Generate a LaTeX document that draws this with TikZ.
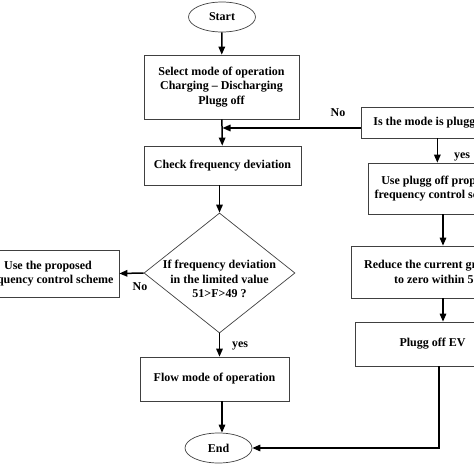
\documentclass[tikz,border=0pt]{standalone}
\usepackage{fontspec}
\setmainfont{Liberation Serif}
\usetikzlibrary{shapes,arrows.meta,positioning}
\tikzstyle{term} = [draw=black!75,ellipse,line width=0.7pt,inner sep=0,minimum width=67pt,minimum height=30pt]
\tikzstyle{proc} = [draw=black!75,rectangle,line width=0.7pt,inner sep=0,align=center]
\tikzstyle{decision} = [draw=black!75,diamond,line width=0.7pt,inner sep=0,minimum width=151pt,minimum height=120pt]
\tikzstyle{flow} = [-{Triangle[length=8pt,width=6.5pt]},line width=1.5pt]
\tikzstyle{tag} = [inner sep=0]
\def \fs {\fontsize{12}{14.5}\selectfont\bfseries}

\begin{document}
\begin{tikzpicture}[x=1pt, y=-1pt, every node/.style={font=\fs}]
      \useasboundingbox (0,0) rectangle (474,474);
      \clip (0,0) rectangle (474,474);
      \node[term] (start) at (222,17) {Start};
      \node[proc,minimum width=155pt,minimum height=64pt] (sel) at (221.5,87) {Select mode of operation\\Charging -- Discharging\\Plugg off};
      \node[proc,minimum width=157pt,minimum height=39pt] (chk) at (222.5,165.5) {Check frequency deviation};
      \node[decision] (dec) at (219.5,273) {};
      \node[tag,align=center] (dect) at (219.5,279) {If frequency deviation\\in the limited value\\51>F>49 ?};
      \node[proc,minimum width=142pt,minimum height=47pt] (prop) at (48,273.5) {Use the proposed\\frequency control scheme};
      \node[proc,minimum width=149pt,minimum height=44pt] (flw) at (214.5,379) {Flow mode of operation};
      \node[term] (end) at (218.5,448) {End};
      \node[proc,anchor=west,minimum width=152pt,minimum height=31pt] (plg) at (361,122.5) {Is the mode is plugg off ?};
      \node[proc,minimum width=144pt,minimum height=51pt] (usep) at (440,188.5) {Use plugg off proposed\\frequency control scheme};
      \node[proc,minimum width=184pt,minimum height=52pt] (red) at (443,272) {Reduce the current grid power\\to zero within 5 sec};
      \node[proc,minimum width=155pt,minimum height=44pt] (ev) at (432.5,344) {Plugg off EV};
      \coordinate (mrg) at (222.5,128);
      \node[tag] (no1) at (338,113) {No};
      \node[tag] (yes1) at (462,157) {yes};
      \node[tag] (no2) at (140,287) {No};
      \node[tag] (yes2) at (240,346) {yes};
      \draw[flow] (start) -- (sel);
      \draw[flow] (sel) -- (chk);
      \draw[flow] (plg.west |- mrg) -- (mrg);
      \draw[flow] (chk.south -| dec.north) -- (dec.north);
      \draw[flow] (dec.west) -- (prop.east);
      \draw[flow] (dec.south) -- (dec.south |- flw.north);
      \draw[flow] (flw.south -| start.south) -- (end.north -| start.south);
      \draw[flow] (plg.south) -- (plg.south |- usep.north);
      \draw[flow] ([xshift=3pt]usep.south) -- ([xshift=3pt]usep.south |- red.north);
      \draw[flow] (red.south) -- (red.south |- ev.north);
      \draw[flow] ([xshift=6.5pt]ev.south) |- (end.east);
\end{tikzpicture}
\end{document}
